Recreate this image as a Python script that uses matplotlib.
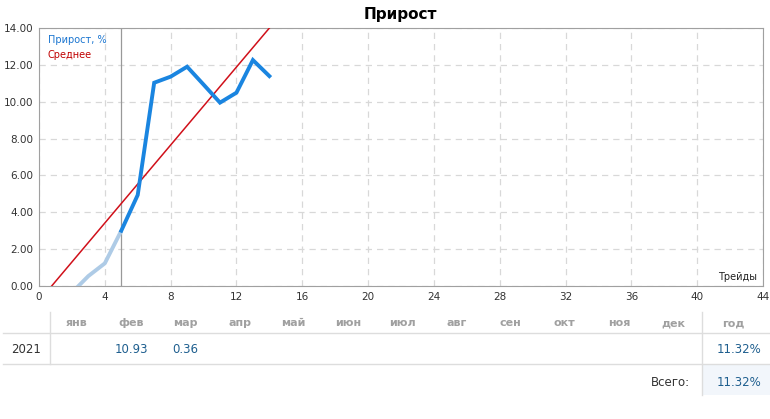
import numpy as np
import matplotlib
matplotlib.use('Agg')
from matplotlib import pyplot as plt
from matplotlib.lines import Line2D
from matplotlib.patches import Rectangle

# growth curve (trade number -> growth %)
trades_pre = [2, 3, 4, 5]
growth_pre = [-0.36, 0.54, 1.23, 3.0]
trades = [5, 6, 7, 8, 9, 10, 11, 12, 13, 14]
growth = [3.0, 4.94, 11.03, 11.36, 11.9, 10.93, 9.95, 10.49, 12.26, 11.39]
marker_trade = 5

# average line: starts at 0.77, slope ~1.058 per trade
avg_start = 0.77
avg_slope = 1.058

months = ['янв', 'фев', 'мар', 'апр', 'май', 'июн', 'июл', 'авг', 'сен', 'окт', 'ноя', 'дек']
year = '2021'
month_values = {'фев': '10.93', 'мар': '0.36'}
year_total = '11.32%'
grand_total = '11.32%'

W, H = 770, 419
fig = plt.figure(figsize=(W / 100, H / 100), dpi=100)

def px(x, y):
    return x / W, 1 - y / H

ax = fig.add_axes([39 / W, 1 - 286 / H, (763 - 39) / W, (286 - 28) / H])
ax.set_xlim(0, 44)
ax.set_ylim(0, 14)
ax.set_xticks(np.arange(0, 45, 4))
ax.set_yticks(np.arange(0, 15, 2))
ax.set_yticklabels(['%.2f' % v for v in np.arange(0, 15, 2)])
ax.tick_params(length=0, labelsize=7.5, labelcolor='#333333', pad=4)
ax.grid(True, color='#d8d8d8', linestyle=(0, (5, 4)), linewidth=0.9)
for s in ax.spines.values():
    s.set_color('#a0a0a0')

xs = np.array([0, 44])
ax.plot(xs, avg_slope * (xs - avg_start), color='#d0101a', lw=1.1, zorder=3)
ax.axvline(marker_trade, color='#999999', lw=0.9, zorder=2)
ax.plot(trades_pre, growth_pre, color='#aecbe6', lw=2.8, solid_capstyle='butt', zorder=4)
ax.plot(trades, growth, color='#1a85e0', lw=2.8, solid_joinstyle='miter', zorder=5)

ax.text(0.012, 0.955, 'Прирост, %', transform=ax.transAxes, color='#1a75d0', fontsize=7, va='center')
ax.text(0.012, 0.895, 'Среднее', transform=ax.transAxes, color='#c00000', fontsize=7, va='center')
ax.text(0.992, 0.035, 'Трейды', transform=ax.transAxes, color='#222222', fontsize=7, ha='right', va='center')

fig.text(0.52, 1 - 14 / H, 'Прирост', ha='center', va='center', fontsize=11, fontweight='bold')

# table below the chart
def hline(y, x0, x1):
    fig.add_artist(Line2D([x0 / W, x1 / W], [1 - y / H, 1 - y / H], color='#dddddd', lw=1))

def vline(x, y0, y1):
    fig.add_artist(Line2D([x / W, x / W], [1 - y0 / H, 1 - y1 / H], color='#dddddd', lw=1))

fig.add_artist(Rectangle(px(702, 395), 68 / W, 30 / H, color='#f2f6fb', lw=0))
hline(333, 3, 770)
hline(364, 3, 770)
vline(50, 312, 364)
vline(702, 312, 395)

for i, m in enumerate(months):
    cx = 77 + i * 54.2
    fig.text(*px(cx, 323), m, ha='center', va='center', fontsize=8, color='#a0a0a0', fontweight='bold')
    if m in month_values:
        fig.text(*px(cx, 349), month_values[m], ha='center', va='center', fontsize=8.5, color='#1f5f8f')
fig.text(*px(733, 323), 'год', ha='center', va='center', fontsize=8, color='#a0a0a0', fontweight='bold')
fig.text(*px(26, 349), year, ha='center', va='center', fontsize=8.5, color='#333333')
fig.text(*px(761, 349), year_total, ha='right', va='center', fontsize=8.5, color='#1f5f8f')
fig.text(*px(690, 382), 'Всего:', ha='right', va='center', fontsize=8.5, color='#333333')
fig.text(*px(761, 382), grand_total, ha='right', va='center', fontsize=8.5, color='#1f5f8f')

fig.savefig('out.png', dpi=100)
